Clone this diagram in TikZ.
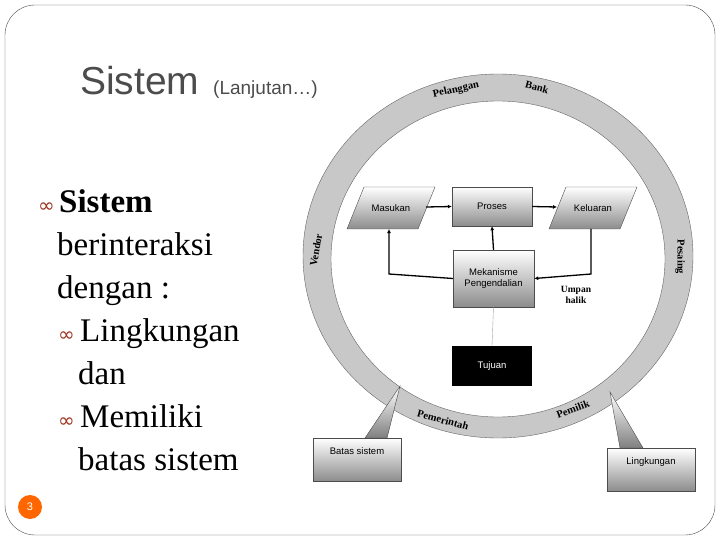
\documentclass[tikz,border=0pt]{standalone}
\usepackage{fontspec}
\setmainfont{Liberation Serif}
\newfontfamily\arial{Liberation Sans}
\newfontfamily\djsans{DejaVu Sans}
\usetikzlibrary{arrows.meta}
\definecolor{bul}{RGB}{160,50,30}
\definecolor{ring}{RGB}{200,200,200}
\tikzset{
 box/.style={draw=black!70,top color=white,bottom color=black!45,font=\arial\fontsize{9.5}{11.5}\selectfont,align=center,inner sep=0pt},
 bf/.style={font=\arial\fontsize{9.5}{11}\selectfont},
 arr/.style={line width=1.3pt,-{Latex[length=4pt,width=4pt]}},
 rl/.style={font=\fontsize{10.5}{11}\selectfont\bfseries},
 bt/.style={font=\fontsize{33}{36}\selectfont,anchor=base west,inner sep=0pt},
 bu/.style={anchor=base west,inner sep=0pt,text=bul,font=\djsans\fontsize{20}{22}\selectfont}
}
\begin{document}
\begin{tikzpicture}[x=1pt,y=-1pt]
\useasboundingbox (0,0) rectangle (720,540);
\fill[white] (0,0) rectangle (720,540);
\draw[black!70,rounded corners=30pt] (5,5) rectangle (715,535);
% title
\node[anchor=base west,inner sep=0pt,font=\arial\fontsize{39}{42}\selectfont,text=black!70] (t) at (80,95) {Sistem};
\node[anchor=base west,inner sep=0pt,font=\arial\fontsize{19}{21}\selectfont,text=black!70] (t2) at (213,95) {(Lanjutan…)};
% left text
\node[bu] (b1) at (38,212) {∞};
\node[bt,font=\fontsize{33}{36}\selectfont\bfseries] (l1) at (59,212) {Sistem};
\node[bt] (l2) at (57,255) {berinteraksi};
\node[bt] (l3) at (57,298) {dengan :};
\node[bu] (b2) at (58,341) {∞};
\node[bt] (l4) at (80,341) {Lingkungan};
\node[bt] (l5) at (78,384) {dan};
\node[bu] (b3) at (58,427) {∞};
\node[bt] (l6) at (80,427) {Memiliki};
\node[bt] (l7) at (78,470) {batas sistem};
\node[circle,fill=orange!80!red,minimum size=24pt,inner sep=0pt,text=white,font=\arial\fontsize{11}{12}\selectfont] (pg) at (30,507) {3};
% ring
\fill[ring,even odd rule,draw=black!60] (498,256) ellipse [x radius=195,y radius=182] (498,259) ellipse [x radius=167,y radius=158];
\node[rl,rotate=12] (r1) at (456,90) {Pelanggan};
\node[rl,rotate=-15] (r2) at (537,87) {Bank};
\node[rl,rotate=80] (r3) at (316,250) {Vendor};
\node[rl,rotate=-90] (r4) at (680,257) {Pesaing};
\node[rl,rotate=-15] (r5) at (443,420) {Pemerintah};
\node[rl,rotate=20] (r6) at (573,409) {Pemilik};
% boxes
\shade[top color=white,bottom color=black!45,draw=black!70] (364,187) -- (435,187) -- (418,229) -- (347,229) -- cycle;
\node[bf] (mas) at (391,208) {Masukan};
\shade[top color=white,bottom color=black!45,draw=black!70] (566,187) -- (637,187) -- (620,229) -- (549,229) -- cycle;
\node[bf] (kel) at (593,208) {Keluaran};
\node[box,minimum width=80pt,minimum height=39pt] (pro) at (492,206.5) {Proses};
\node[box,minimum width=81pt,minimum height=57pt] (mek) at (493.5,278.5) {Mekanisme\\Pengendalian};
\node[fill=black,text=white,minimum width=80pt,minimum height=40pt,inner sep=0pt,font=\arial\fontsize{9.5}{11}\selectfont] (tuj) at (492,366) {Tujuan};
\draw[black!35] (mek.south) -- (tuj.north);
\draw[arr] (426,207) -- (pro.west);
\draw[arr] (pro.east) -- (557,207);
\draw[arr] (mek.north) -- (pro.south);
\draw[arr] (mek.west) -- (389,274) -- (389,229);
\draw[arr] (591,229) -- (591,274) -- (mek.east);
\node[font=\fontsize{9.5}{11.5}\selectfont\bfseries,align=center] (ub) at (576,295) {Umpan\\halik};
% callouts
\shade[top color=white,bottom color=black!50,draw=black!70] (365,438) -- (400,386) -- (387,438) -- cycle;
\node[box,minimum width=88pt,minimum height=43pt,anchor=north west] (bs) at (313,438) {};
\node[bf] (bst) at (357,451) {Batas sistem};
\shade[top color=white,bottom color=black!50,draw=black!70] (620,448) -- (610,392) -- (643,448) -- cycle;
\node[box,minimum width=88pt,minimum height=43pt,anchor=north west] (lk) at (607,448) {};
\node[bf] (lkt) at (651,462) {Lingkungan};
\end{tikzpicture}
\end{document}
